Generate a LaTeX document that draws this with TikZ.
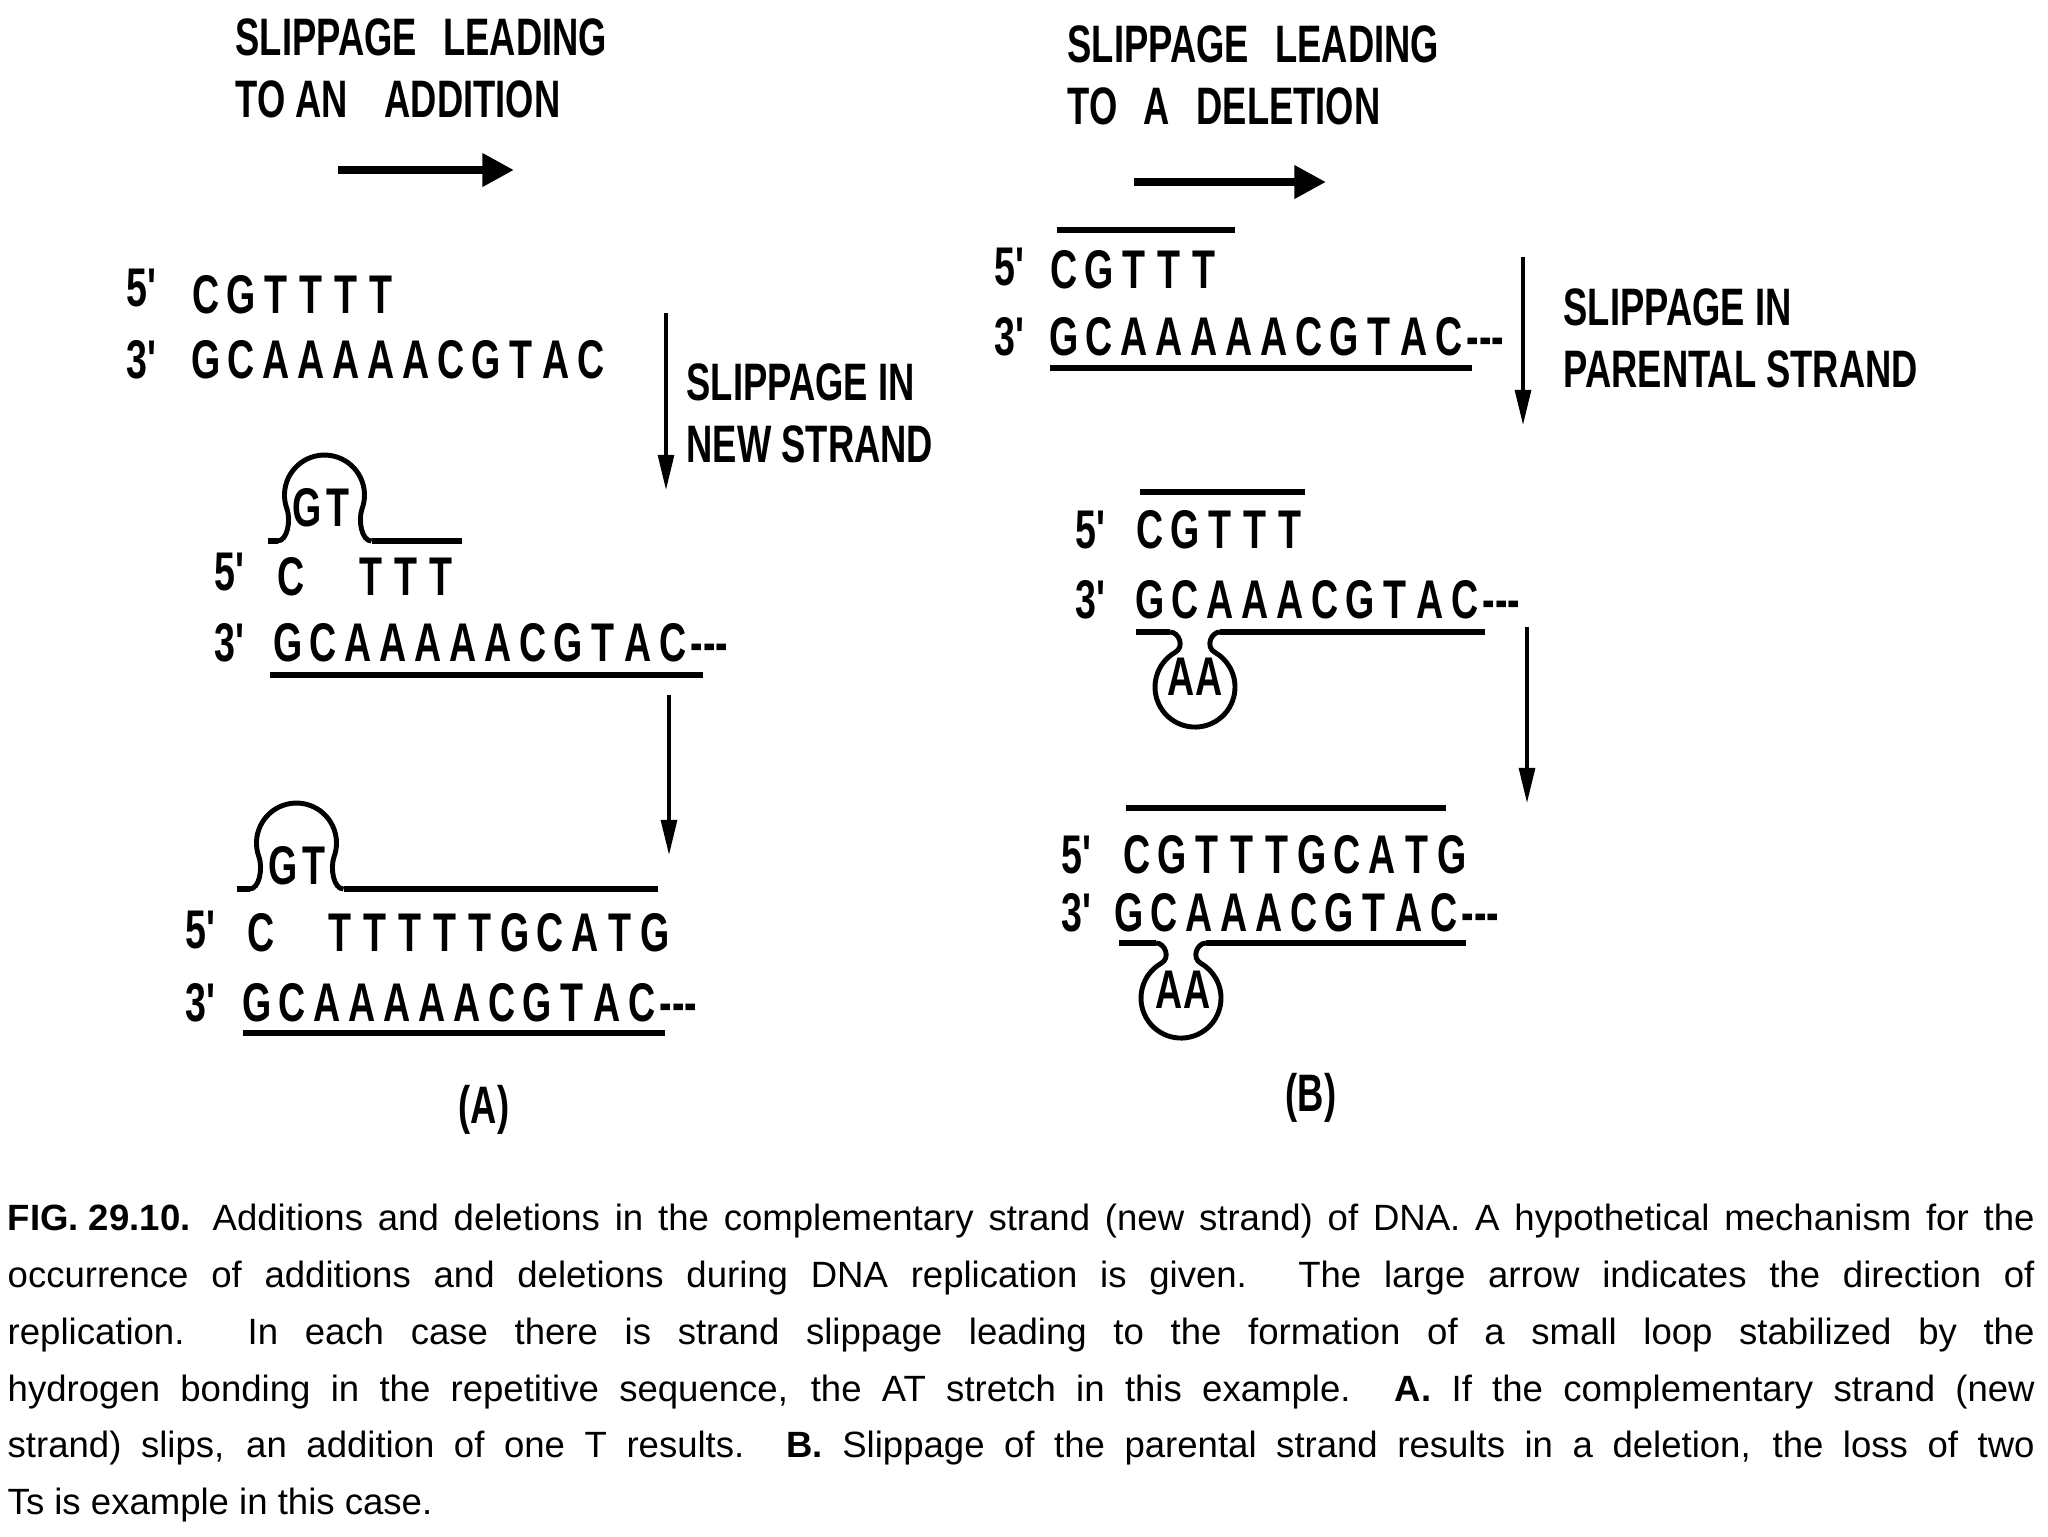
\documentclass[tikz,border=0pt]{standalone}
\usepackage{fontspec}
\setmainfont{Liberation Sans}
\newfontfamily\dnafont[FakeStretch=0.69]{Liberation Sans Bold}
\usepackage{tikz}
\usetikzlibrary{arrows.meta}

% one base per fixed-width cell
\newcommand{\seqbox}[1]{\makebox[3.5mm]{#1}}
\makeatletter
\newcommand{\dna}[1]{\dna@scan#1\@nil}
\def\dna@scan#1{\ifx#1\@nil\else\seqbox{#1}\expandafter\dna@scan\fi}
\makeatother

\begin{document}
\begin{tikzpicture}[
      x=0.1mm, y=-0.1mm,
      seq/.style={font=\dnafont\fontsize{15.5}{18}\selectfont, inner sep=0pt, anchor=west},
      panel/.style={font=\dnafont\fontsize{15}{18}\selectfont, inner sep=0pt},
      head/.style={font=\dnafont\fontsize{15}{17.5}\selectfont, align=left, inner sep=0pt, anchor=north west},
      strand/.style={line width=1.8pt},
      loopline/.style={line width=1.4pt},
      reparr/.style={-{Triangle[length=9pt,width=9pt]}, line width=2.5pt},
      sliparr/.style={-{Triangle[length=10pt,width=4.5pt]}, line width=1pt},
      gtloop/.pic={
        \draw[loopline] (-47,46) .. controls (-37,46) and (-33.5,25) .. (-37.6,13.7)
          arc[start angle=200, end angle=-20, radius=4mm]
          .. controls (33.5,25) and (37,46) .. (47,46);
        \coordinate (-in) at (-47,46);
        \coordinate (-out) at (47,46);
      },
      aaloop/.pic={
        \draw[loopline] (-25,-55) .. controls (-16,-55) and (-10,-40) .. (-20,-34.6)
          arc[start angle=120, end angle=420, radius=4mm]
          .. controls (10,-40) and (16,-55) .. (25,-55);
        \coordinate (-in) at (-25,-55);
        \coordinate (-out) at (25,-55);
      }
    ]
    \useasboundingbox (0,0) rectangle (2048,1536);
    %% (A) slippage in the new strand
    \node[head] (ahead) at (235,18) {SLIPPAGE\enspace LEADING\\TO AN\enspace\ ADDITION};
    \coordinate (arep1) at (338,170);
    \coordinate (arep2) at (514,170);
    \draw[reparr] (arep1) -- (arep2);
    \node[seq] (a1five)  at (126,288) {5'};
    \node[seq] (a1top)   at (188,295) {\dna{CGTTTT}};
    \node[seq] (a1three) at (126,360) {3'};
    \node[seq] (a1bot)   at (188,360) {\dna{GCAAAAACGTAC}};
    \coordinate (aslip1) at (666,313);
    \coordinate (aslip2) at (666,490);
    \draw[sliparr] (aslip1) -- (aslip2);
    \node[head] (aslip) at (686,363) {SLIPPAGE IN\\NEW STRAND};
    %% loop of GT in the new strand
    \pic (gt1) at (324.5,495) {gtloop};
    \node[seq, anchor=center] (a2gt) at (321,508) {G\kern1.5pt T};
    \node[seq] (a2five)  at (214,572) {5'};
    \node[seq] (a2c)     at (273,577) {\dna{C}};
    \node[seq] (a2top)   at (353,577) {\dna{TTT}};
    \node[seq] (a2three) at (214,643) {3'};
    \node[seq] (a2bot)   at (270,643) {\dna{GCAAAAACGTAC}-{}-{}-};
    \draw[strand] (268,541) -- (gt1-in);
    \draw[strand] (gt1-out) -- (462,541);
    \draw[strand] (270,675) -- (703,675);
    \coordinate (anext1) at (669,695);
    \coordinate (anext2) at (669,855);
    \draw[sliparr] (anext1) -- (anext2);
    %% one T added
    \pic (gt2) at (296.5,843) {gtloop};
    \node[seq, anchor=center] (a3gt) at (297,866) {G\kern1.5pt T};
    \node[seq] (a3five)  at (185,930) {5'};
    \node[seq] (a3c)     at (243,933) {\dna{C}};
    \node[seq] (a3top)   at (322,933) {\dna{TTTTTGCATG}};
    \node[seq] (a3three) at (185,1003) {3'};
    \node[seq] (a3bot)   at (239,1003) {\dna{GCAAAAACGTAC}-{}-{}-};
    \draw[strand] (237,889) -- (gt2-in);
    \draw[strand] (gt2-out) -- (658,889);
    \draw[strand] (243,1033) -- (665,1033);
    \node[panel] (alabel) at (484,1110) {(A)};
    %% (B) slippage in the parental strand
    \node[head] (bhead) at (1067,25) {SLIPPAGE\enspace LEADING\\TO\enspace A\enspace DELETION};
    \coordinate (brep1) at (1134,182);
    \coordinate (brep2) at (1326,182);
    \draw[reparr] (brep1) -- (brep2);
    \node[seq] (b1five)  at (994,267) {5'};
    \node[seq] (b1top)   at (1046,270) {\dna{CGTTT}};
    \node[seq] (b1three) at (994,337) {3'};
    \node[seq] (b1bot)   at (1046,337) {\dna{GCAAAAACGTAC}-{}-{}-};
    \draw[strand] (1057,230) -- (1235,230);
    \draw[strand] (1050,368) -- (1472,368);
    \coordinate (bslip1) at (1523,257);
    \coordinate (bslip2) at (1523,425);
    \draw[sliparr] (bslip1) -- (bslip2);
    \node[head] (bslip) at (1563,288) {SLIPPAGE IN\\PARENTAL STRAND};
    %% loop of AA in the parental strand
    \node[seq] (b2five)  at (1075,530) {5'};
    \node[seq] (b2top)   at (1132,530) {\dna{CGTTT}};
    \node[seq] (b2three) at (1075,600) {3'};
    \node[seq] (b2bot)   at (1132,600) {\dna{GCAAACGTAC}-{}-{}-};
    \draw[strand] (1140,492) -- (1305,492);
    \pic (aa1) at (1195,687) {aaloop};
    \node[seq, anchor=center] (b2aa) at (1195,677) {AA};
    \draw[strand] (1136,632) -- (aa1-in);
    \draw[strand] (aa1-out) -- (1485,632);
    \coordinate (bnext1) at (1527,627);
    \coordinate (bnext2) at (1527,803);
    \draw[sliparr] (bnext1) -- (bnext2);
    %% two Ts lost
    \node[seq] (b3five)  at (1061,855) {5'};
    \node[seq] (b3top)   at (1119,855) {\dna{CGTTTGCATG}};
    \node[seq] (b3three) at (1061,913) {3'};
    \node[seq] (b3bot)   at (1111,913) {\dna{GCAAACGTAC}-{}-{}-};
    \draw[strand] (1126,808) -- (1446,808);
    \pic (aa2) at (1181,998) {aaloop};
    \node[seq, anchor=center] (b3aa) at (1183,990) {AA};
    \draw[strand] (1119,943) -- (aa2-in);
    \draw[strand] (aa2-out) -- (1466,943);
    \node[panel] (blabel) at (1311,1098) {(B)};
    %% caption
    \node[anchor=north west, text width=202.7mm, align=justify, inner sep=0pt,
          font=\fontsize{10.4}{16.2}\selectfont] (caption) at (7,1203)
      {\noindent\hangindent=20.5mm\hangafter=1\makebox[20.5mm][l]{\textbf{FIG. 29.10.}}Additions
       and deletions in the complementary strand (new strand) of DNA. A hypothetical mechanism for
       the\linebreak occurrence of additions and deletions during DNA replication is given. The large
       arrow indicates the direction of\linebreak replication. In each case there is strand slippage
       leading to the formation of a small loop stabilized by the\linebreak hydrogen bonding in the
       repetitive sequence, the AT stretch in this example. \textbf{A.} If the complementary strand
       (new\linebreak strand) slips, an addition of one T results. \textbf{B.} Slippage of the parental
       strand results in a deletion, the loss of two\linebreak Ts is example in this case.};
  \end{tikzpicture}
\end{document}
